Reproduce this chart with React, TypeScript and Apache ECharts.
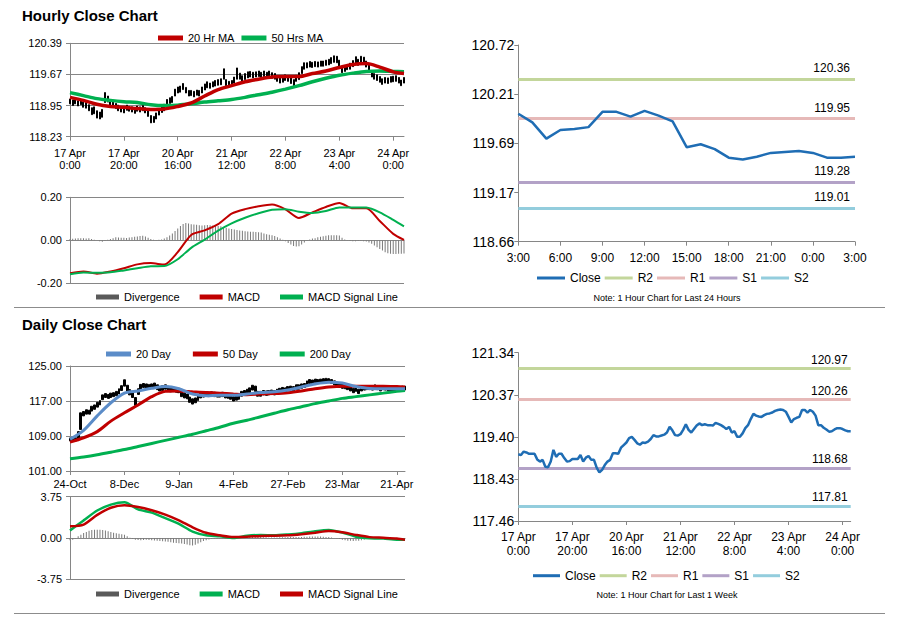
import React, { useEffect, useRef } from "react";
import * as echarts from "echarts";

// ---------------- DATA ----------------
// Hourly (last week) – top-left
const hourlyTicks = ["17 Apr\n0:00", "17 Apr\n20:00", "20 Apr\n16:00", "21 Apr\n12:00", "22 Apr\n8:00", "23 Apr\n4:00", "24 Apr\n0:00"];
const hourlyYTicks = [118.23, 118.95, 119.67, 120.39];
const hourlyHigh = [
  119.10, 119.08, 119.11, 119.06, 119.08, 119.03, 119.02, 118.97, 118.90, 118.92,
  118.83, 118.80, 118.86, 119.25, 119.17, 119.07, 119.05, 119.00, 118.96, 118.92,
  118.90, 118.96, 118.93, 118.92, 118.90, 118.94, 118.92, 118.95, 118.90, 118.84,
  118.72, 118.70, 118.78, 118.88, 118.93, 118.98, 119.09, 119.13, 119.16, 119.33,
  119.38, 119.40, 119.46, 119.37, 119.30, 119.30, 119.28, 119.31, 119.30, 119.38,
  119.45, 119.50, 119.47, 119.50, 119.53, 119.55, 119.57, 119.80, 119.55, 119.51,
  119.53, 119.61, 119.82, 119.70, 119.64, 119.69, 119.73, 119.74, 119.72, 119.73,
  119.75, 119.72, 119.75, 119.72, 119.75, 119.71, 119.69, 119.64, 119.60, 119.62,
  119.66, 119.64, 119.59, 119.55, 119.65, 119.71, 119.85, 119.94, 119.94, 119.97,
  119.95, 119.97, 119.96, 119.98, 119.98, 120.00, 120.02, 120.06, 120.10, 120.09,
  120.00, 119.85, 119.88, 119.90, 119.93, 119.99, 120.08, 120.02, 120.09, 120.07,
  119.98, 119.90, 119.75, 119.69, 119.66, 119.62, 119.57, 119.60, 119.59, 119.62,
  119.63, 119.64, 119.60, 119.54, 119.60,
];
const hourlyLow = [
  118.99, 118.95, 118.99, 118.94, 118.97, 118.91, 118.89, 118.83, 118.74, 118.76,
  118.66, 118.64, 118.68, 119.02, 119.03, 118.94, 118.94, 118.88, 118.83, 118.80,
  118.78, 118.84, 118.82, 118.80, 118.77, 118.82, 118.80, 118.83, 118.78, 118.70,
  118.55, 118.56, 118.64, 118.73, 118.79, 118.83, 118.94, 119.00, 119.02, 119.17,
  119.24, 119.26, 119.32, 119.24, 119.17, 119.18, 119.15, 119.19, 119.17, 119.24,
  119.31, 119.36, 119.35, 119.38, 119.40, 119.42, 119.43, 119.56, 119.41, 119.38,
  119.40, 119.47, 119.56, 119.56, 119.51, 119.55, 119.59, 119.61, 119.59, 119.61,
  119.62, 119.59, 119.62, 119.59, 119.62, 119.58, 119.56, 119.51, 119.47, 119.49,
  119.53, 119.51, 119.46, 119.41, 119.51, 119.55, 119.69, 119.79, 119.82, 119.84,
  119.83, 119.85, 119.84, 119.86, 119.86, 119.88, 119.89, 119.92, 119.95, 119.94,
  119.84, 119.71, 119.74, 119.78, 119.79, 119.85, 119.91, 119.88, 119.94, 119.93,
  119.84, 119.76, 119.61, 119.56, 119.53, 119.49, 119.44, 119.47, 119.46, 119.49,
  119.50, 119.51, 119.47, 119.41, 119.47,
];
// moving averages / MACD sampled every 5 bars (last sample = last bar)
const hourlyMA20 = [119.14, 119.07, 118.98, 118.93, 118.91, 118.88, 118.86, 118.87, 118.93, 119.01, 119.17, 119.32, 119.41, 119.50, 119.56, 119.61, 119.62, 119.62, 119.69, 119.75, 119.83, 119.90, 119.92, 119.84, 119.73, 119.69];
const hourlyMA50 = [119.25, 119.18, 119.11, 119.07, 119.04, 119.02, 118.97, 118.95, 118.96, 118.99, 119.03, 119.06, 119.09, 119.14, 119.20, 119.26, 119.33, 119.41, 119.50, 119.58, 119.65, 119.70, 119.74, 119.75, 119.74, 119.73];
const hourlyMacd = [-0.153, -0.145, -0.155, -0.145, -0.130, -0.112, -0.106, -0.113, -0.055, 0.025, 0.046, 0.075, 0.124, 0.145, 0.158, 0.166, 0.144, 0.104, 0.130, 0.155, 0.174, 0.149, 0.149, 0.090, 0.030, 0.002];
const hourlySignal = [-0.158, -0.150, -0.151, -0.149, -0.140, -0.130, -0.121, -0.120, -0.088, -0.035, 0.003, 0.045, 0.079, 0.105, 0.126, 0.142, 0.145, 0.133, 0.127, 0.136, 0.153, 0.153, 0.152, 0.130, 0.095, 0.065];
const hourlyDiv = [
  0.006, 0.007, 0.008, 0.009, 0.010, 0.009, 0.008, 0.010, 0.006, 0.003,
  0.000, -0.004, -0.007, -0.003, 0.002, 0.006, 0.010, 0.014, 0.013, 0.012,
  0.012, 0.011, 0.013, 0.014, 0.016, 0.018, 0.020, 0.021, 0.018, 0.012,
  0.006, 0.002, 0.001, 0.002, 0.004, 0.008, 0.014, 0.022, 0.032, 0.043,
  0.055, 0.066, 0.076, 0.080, 0.078, 0.075, 0.074, 0.072, 0.070, 0.069,
  0.070, 0.071, 0.070, 0.069, 0.068, 0.067, 0.065, 0.062, 0.058, 0.055,
  0.052, 0.050, 0.048, 0.046, 0.044, 0.042, 0.041, 0.040, 0.040, 0.039,
  0.038, 0.036, 0.032, 0.028, 0.026, 0.024, 0.020, 0.014, 0.008, 0.002,
  -0.004, -0.012, -0.020, -0.026, -0.029, -0.028, -0.020, -0.010, -0.002, 0.004,
  0.008, 0.010, 0.014, 0.017, 0.019, 0.021, 0.023, 0.024, 0.024, 0.023,
  0.022, 0.012, 0.004, -0.001, -0.003, -0.004, -0.004, -0.003, -0.003, -0.004,
  -0.005, -0.010, -0.016, -0.024, -0.032, -0.040, -0.048, -0.055, -0.060, -0.063,
  -0.064, -0.064, -0.063, -0.062, -0.061,
];

// Last 24 hours – top-right
const dayTicks = ["3:00", "6:00", "9:00", "12:00", "15:00", "18:00", "21:00", "0:00", "3:00"];
const dayYTicks = [118.66, 119.17, 119.69, 120.21, 120.72];
const dayClose = [120.00, 119.91, 119.74, 119.83, 119.84, 119.86, 120.02, 120.02, 119.97, 120.03, 119.98, 119.92, 119.65, 119.68, 119.63, 119.54, 119.52, 119.55, 119.59, 119.60, 119.61, 119.59, 119.54, 119.54, 119.55];
const dayLevels = [120.36, 119.95, 119.28, 119.01];

// Last week – bottom-right
const weekTicks = hourlyTicks;
const weekYTicks = [117.46, 118.43, 119.40, 120.37, 121.34];
const weekClose = [
  119.00, 118.98, 119.06, 119.04, 119.01, 119.01, 119.01, 118.88, 118.83, 118.87,
  118.71, 118.70, 118.83, 119.10, 118.94, 119.01, 119.01, 118.91, 118.83, 118.84,
  118.89, 118.89, 118.89, 118.98, 118.83, 118.92, 118.96, 118.87, 118.87, 118.69,
  118.58, 118.64, 118.75, 118.83, 118.87, 119.02, 119.02, 119.01, 119.15, 119.21,
  119.27, 119.37, 119.40, 119.33, 119.25, 119.22, 119.27, 119.26, 119.29, 119.35,
  119.44, 119.41, 119.41, 119.43, 119.45, 119.50, 119.63, 119.55, 119.44, 119.43,
  119.46, 119.56, 119.69, 119.56, 119.50, 119.58, 119.66, 119.71, 119.67, 119.69,
  119.67, 119.67, 119.66, 119.72, 119.70, 119.67, 119.63, 119.58, 119.63, 119.50,
  119.53, 119.40, 119.40, 119.48, 119.60, 119.67, 119.81, 119.93, 119.89, 119.87,
  119.86, 119.90, 119.93, 119.94, 119.96, 120.00, 120.02, 120.03, 120.02, 119.98,
  119.86, 119.73, 119.81, 119.84, 119.86, 120.02, 120.02, 119.96, 120.02, 119.98,
  119.89, 119.67, 119.67, 119.61, 119.57, 119.52, 119.53, 119.57, 119.60, 119.60,
  119.58, 119.55, 119.53, 119.53,
];
const weekLevels = [120.97, 120.26, 118.68, 117.81];
const levelNames = ["R2", "R1", "S1", "S2"];

// Daily – bottom-left
const dailyTicks = ["24-Oct", "8-Dec", "9-Jan", "4-Feb", "27-Feb", "23-Mar", "21-Apr"];
const dailyYTicks = [101, 109, 117, 125];
const dailyHigh = [
  108.55, 108.50, 108.60, 110.00, 114.30, 114.60, 115.00, 114.90, 115.80, 116.10,
  116.70, 117.10, 118.40, 118.70, 118.50, 118.80, 118.90, 119.20, 119.80, 120.50,
  121.85, 120.60, 119.60, 118.90, 117.80, 119.80, 120.80, 121.00, 120.90, 120.80,
  120.90, 121.10, 120.70, 120.30, 120.50, 120.70, 120.40, 120.20, 120.10, 120.00,
  119.90, 119.30, 118.80, 118.60, 117.90, 117.50, 117.70, 118.20, 118.80, 118.90,
  119.10, 119.00, 119.10, 119.00, 118.90, 118.90, 119.00, 118.80, 118.60, 118.40,
  118.00, 118.20, 118.50, 119.20, 119.40, 119.70, 120.00, 120.60, 120.40, 119.20,
  119.20, 119.40, 119.30, 119.40, 119.50, 119.40, 119.70, 119.90, 120.10, 120.00,
  120.30, 120.40, 120.30, 120.70, 120.70, 120.90, 121.00, 121.60, 121.90, 121.80,
  122.00, 121.90, 122.00, 122.10, 122.20, 122.10, 121.90, 121.60, 121.30, 121.00,
  120.90, 120.70, 120.60, 120.30, 119.90, 120.10, 119.70, 120.30, 120.40, 120.50,
  120.50, 120.40, 120.70, 120.50, 120.30, 120.50, 120.40, 120.30, 120.20, 120.20,
  120.40, 120.20, 120.40, 120.40,
];
const dailyLow = [
  107.90, 107.95, 107.90, 108.30, 110.50, 113.60, 114.00, 114.00, 114.70, 115.10,
  115.60, 116.10, 117.30, 117.80, 117.60, 117.80, 118.00, 118.20, 118.60, 119.40,
  120.40, 119.00, 118.40, 117.80, 116.00, 118.50, 119.70, 120.10, 119.90, 119.70,
  119.90, 120.00, 119.60, 119.30, 119.40, 119.70, 119.50, 119.10, 119.20, 119.00,
  118.90, 118.00, 117.70, 117.50, 116.70, 116.30, 116.60, 117.10, 117.70, 117.90,
  118.10, 118.00, 118.10, 118.00, 117.90, 117.90, 118.00, 117.70, 117.60, 117.40,
  117.00, 117.20, 117.40, 118.10, 118.40, 118.70, 118.90, 119.50, 119.20, 118.10,
  118.10, 118.40, 118.30, 118.40, 118.60, 118.40, 118.70, 118.90, 119.20, 119.00,
  119.30, 119.50, 119.30, 119.70, 119.70, 119.90, 120.10, 120.70, 121.00, 120.90,
  121.20, 121.00, 121.20, 121.20, 121.30, 121.20, 121.00, 120.70, 120.40, 120.10,
  119.90, 119.80, 119.60, 119.30, 118.90, 119.20, 118.70, 119.30, 119.50, 119.60,
  119.60, 119.50, 119.80, 119.60, 119.30, 119.60, 119.50, 119.30, 119.30, 119.30,
  119.50, 119.30, 119.50, 119.50,
];
const dailyMA20 = [108.24, 110.3, 113.6, 116.6, 118.8, 119.3, 119.9, 120.3, 119.8, 118.6, 118.2, 118.3, 118.3, 118.6, 118.95, 119.1, 119.5, 120.2, 120.9, 121.3, 121.1, 120.3, 119.85, 119.8, 119.8, 119.8];
const dailyMA50 = [107.6, 108.6, 110.0, 112.4, 114.3, 116.1, 118.0, 119.2, 119.3, 119.1, 118.95, 118.8, 118.6, 118.45, 118.6, 118.7, 118.9, 119.3, 119.8, 120.2, 120.4, 120.4, 120.4, 120.4, 120.3, 120.2];
const dailyMA200 = [103.8, 104.2, 104.7, 105.3, 105.9, 106.6, 107.3, 108.0, 108.7, 109.4, 110.2, 111.0, 111.9, 112.6, 113.4, 114.2, 115.0, 115.7, 116.4, 117.0, 117.6, 118.0, 118.4, 118.8, 119.2, 119.4];
const dailyMacd = [0.67, 1.60, 2.50, 3.03, 3.25, 2.60, 2.30, 1.80, 1.28, 0.58, 0.24, 0.16, 0.00, 0.20, 0.27, 0.24, 0.32, 0.44, 0.62, 0.73, 0.50, 0.12, -0.02, -0.05, -0.15, -0.15];
const dailySignal = [1.06, 1.22, 2.10, 2.75, 2.98, 2.82, 2.52, 2.12, 1.60, 0.97, 0.47, 0.25, 0.08, 0.11, 0.19, 0.21, 0.25, 0.35, 0.48, 0.64, 0.52, 0.28, 0.08, 0.02, -0.05, -0.15];
const dailyDiv = [
  -0.20, -0.15, -0.05, 0.15, 0.30, 0.45, 0.55, 0.65, 0.72, 0.75,
  0.76, 0.75, 0.73, 0.68, 0.62, 0.55, 0.48, 0.42, 0.38, 0.33,
  0.30, 0.15, 0.02, -0.10, -0.15, -0.18, -0.20, -0.18, -0.17, -0.18,
  -0.20, -0.22, -0.25, -0.28, -0.30, -0.32, -0.35, -0.38, -0.42, -0.45,
  -0.47, -0.50, -0.55, -0.60, -0.65, -0.68, -0.62, -0.50, -0.38, -0.28,
  -0.20, -0.14, -0.10, -0.07, -0.05, -0.04, -0.03, -0.03, -0.04, -0.05,
  -0.06, -0.05, -0.03, 0.00, 0.03, 0.06, 0.08, 0.10, 0.10, 0.09,
  0.08, 0.07, 0.06, 0.05, 0.04, 0.04, 0.05, 0.06, 0.07, 0.07,
  0.08, 0.08, 0.09, 0.10, 0.10, 0.10, 0.11, 0.12, 0.13, 0.14,
  0.14, 0.14, 0.13, 0.12, 0.10, 0.08, 0.04, 0.00, -0.05, -0.10,
  -0.15, -0.20, -0.24, -0.26, -0.27, -0.26, -0.24, -0.20, -0.15, -0.10,
  -0.08, -0.06, -0.05, -0.04, -0.03, -0.03, -0.02, -0.02, -0.02, -0.01,
  -0.01, 0.00, 0.00, 0.00,
];

// ---------------- STYLE ----------------
const FONT = '"Liberation Sans", Arial, Helvetica, sans-serif';
const AXIS_COLOR = "#868686";
const RED = "#C00000";
const GREEN = "#00B050";
const BLUE20 = "#5B8CC8";
const CLOSE_BLUE = "#1F6DB4";
const DIV_GRAY = "#7A7A7A";
const DIV_LEGEND = "#5A5A5A";
const LEVEL_COLORS = ["#C3D69B", "#E6B9B8", "#B3A2C7", "#93CDDD"];

const sparse = (vals: number[], n: number, step = 5) => vals.map((v, k) => [Math.min(k * step, n - 1), v]);
const idxCats = (n: number) => Array.from({ length: n }, (_, i) => String(i));
const nearestLabel = (ticks: number[]) => (v: number) => {
  let best = ticks[0];
  for (const t of ticks) if (Math.abs(t - v) < Math.abs(best - v)) best = t;
  return best.toFixed(2);
};

function catAxis(n: number, every: number, labels: string[] | null, fontSize = 11, margin = 10, lineHeight = 12) {
  const pick = (i: number) => i % every === 0;
  return {
    type: "category",
    data: idxCats(n),
    boundaryGap: false,
    axisLine: { show: true, onZero: true, lineStyle: { color: AXIS_COLOR, width: 1 } },
    axisTick: { show: !!labels, length: 4, interval: pick, lineStyle: { color: AXIS_COLOR } },
    axisLabel: labels
      ? {
          show: true,
          interval: pick,
          formatter: (_v: string, i: number) => labels[i / every] ?? "",
          fontFamily: FONT,
          fontSize,
          color: "#000",
          margin,
          lineHeight,
        }
      : { show: false },
    splitLine: { show: false },
  };
}

function valAxis(min: number, max: number, interval: number, fmt: any, split: boolean, fontSize = 11, margin = 8) {
  return {
    type: "value",
    min,
    max,
    interval,
    axisLine: { show: true, lineStyle: { color: AXIS_COLOR } },
    axisTick: { show: true, length: 4, lineStyle: { color: AXIS_COLOR } },
    splitLine: { show: split, lineStyle: { color: AXIS_COLOR, width: 1 } },
    axisLabel: { formatter: fmt, fontFamily: FONT, fontSize, color: "#000", margin },
  };
}

function legend(left: number, top: number, itemWidth: number, itemHeight: number, itemGap: number, fontSize: number, data: any[]) {
  return {
    show: true,
    left,
    top,
    padding: 0,
    itemWidth,
    itemHeight,
    itemGap,
    icon: "rect",
    selectedMode: false,
    textStyle: { fontFamily: FONT, fontSize, color: "#000", lineHeight: 14 },
    data,
  };
}

const lineSeries = (name: string, data: any[], color: string, width: number, z: number, smooth: number | boolean = 0.3) => ({
  type: "line",
  name,
  data,
  color,
  smooth,
  symbol: "none",
  showSymbol: false,
  lineStyle: { color, width },
  z,
});

const barsSeries = (high: number[], low: number[], barWidth: number) => ({
  type: "candlestick",
  name: "Price",
  data: low.map((lo, i) => [lo, high[i], lo, high[i]]),
  barWidth,
  itemStyle: { color: "#000", color0: "#000", borderColor: "#000", borderColor0: "#000", borderWidth: 1 },
  z: 1,
});

const levelSeries = (levels: number[], dist: number) =>
  levels.map((lv, k) => ({
    type: "line",
    name: levelNames[k],
    data: [],
    color: LEVEL_COLORS[k],
    z: 2,
    markLine: {
      silent: true,
      symbol: ["none", "none"],
      data: [{ yAxis: lv }],
      lineStyle: { color: LEVEL_COLORS[k], width: 3, type: "solid" },
      label: { show: true, position: "insideEndTop", formatter: lv.toFixed(2), fontFamily: FONT, fontSize: 12, color: "#000", distance: dist },
    },
  }));

// ---------------- OPTIONS ----------------
const frameOption = {
  animation: false,
  graphic: [
    { type: "text", x: 22, y: 15, style: { text: "Hourly Close Chart", font: `bold 15px ${FONT}`, fill: "#000", verticalAlign: "middle" } },
    { type: "text", x: 22, y: 324, style: { text: "Daily Close Chart", font: `bold 15px ${FONT}`, fill: "#000", verticalAlign: "middle" } },
    { type: "line", shape: { x1: 14, y1: 307.5, x2: 885, y2: 307.5 }, style: { stroke: "#8C8C8C", lineWidth: 1 } },
    { type: "line", shape: { x1: 14, y1: 613.5, x2: 885, y2: 613.5 }, style: { stroke: "#8C8C8C", lineWidth: 1 } },
  ],
};

const nH = hourlyHigh.length;
const optHourly = {
  animation: false,
  grid: { left: 70, top: 43.3, width: 334, height: 93.4 },
  legend: legend(158, 31, 25, 5, 7, 11, ["20 Hr MA", "50 Hrs MA"]),
  xAxis: catAxis(nH, 20, hourlyTicks, 11, 10, 12),
  yAxis: valAxis(hourlyYTicks[0], hourlyYTicks[hourlyYTicks.length - 1], hourlyYTicks[1] - hourlyYTicks[0], nearestLabel(hourlyYTicks), true),
  series: [
    barsSeries(hourlyHigh, hourlyLow, 1.5),
    lineSeries("50 Hrs MA", sparse(hourlyMA50, nH), GREEN, 3.5, 3),
    lineSeries("20 Hr MA", sparse(hourlyMA20, nH), RED, 3.5, 4),
  ],
};

const optHourlyMacd = {
  animation: false,
  grid: { left: 70, top: 17.3, width: 334, height: 86 },
  legend: legend(96, 110, 23, 5, 20, 11, [{ name: "Divergence", itemStyle: { color: DIV_LEGEND } }, "MACD", "MACD Signal Line"]),
  xAxis: catAxis(nH, 20, null),
  yAxis: valAxis(-0.2, 0.2, 0.2, (v: number) => (Math.abs(v) < 1e-9 ? 0 : v).toFixed(2), true),
  series: [
    { type: "bar", name: "Divergence", data: hourlyDiv, barWidth: 1, color: DIV_GRAY, itemStyle: { color: DIV_GRAY }, z: 1 },
    lineSeries("MACD", sparse(hourlyMacd, nH), RED, 2, 3, 0.25),
    lineSeries("MACD Signal Line", sparse(hourlySignal, nH), GREEN, 2, 4, 0.25),
  ],
};

const optDay = {
  animation: false,
  grid: { left: 78.3, top: 45, width: 336.7, height: 196.7 },
  legend: legend(97, 271, 28, 3, 4, 12, ["Close", ...levelNames]),
  xAxis: catAxis(dayClose.length, 3, dayTicks, 12, 9, 14),
  yAxis: valAxis(dayYTicks[0], dayYTicks[dayYTicks.length - 1], (dayYTicks[dayYTicks.length - 1] - dayYTicks[0]) / 4, nearestLabel(dayYTicks), false, 14, 4),
  series: [
    ...levelSeries(dayLevels, 5),
    lineSeries("Close", dayClose, CLOSE_BLUE, 2.5, 5, false),
  ],
  graphic: [
    { type: "text", x: 227, y: 298, style: { text: "Note: 1 Hour Chart for Last 24 Hours", font: `9px ${FONT}`, fill: "#000", align: "center", verticalAlign: "middle" } },
  ],
};

const nD = dailyHigh.length;
const optDaily = {
  animation: false,
  grid: { left: 70, top: 56, width: 335, height: 105 },
  legend: legend(106, 37, 25, 5, 22, 11, ["20 Day", "50 Day", "200 Day"]),
  xAxis: catAxis(nD, 20, dailyTicks, 11, 6, 13),
  yAxis: valAxis(dailyYTicks[0], dailyYTicks[dailyYTicks.length - 1], dailyYTicks[1] - dailyYTicks[0], (v: number) => v.toFixed(2), true),
  series: [
    barsSeries(dailyHigh, dailyLow, 2.4),
    lineSeries("200 Day", sparse(dailyMA200, nD), GREEN, 3, 3),
    lineSeries("50 Day", sparse(dailyMA50, nD), RED, 3, 4),
    lineSeries("20 Day", sparse(dailyMA20, nD), BLUE20, 3, 5),
  ],
};

const optDailyMacd = {
  animation: false,
  grid: { left: 70, top: 6.7, width: 335, height: 82.6 },
  legend: legend(96, 97, 23, 5, 20, 11, [{ name: "Divergence", itemStyle: { color: DIV_LEGEND } }, "MACD", "MACD Signal Line"]),
  xAxis: catAxis(nD, 20, null),
  yAxis: valAxis(-3.75, 3.75, 3.75, (v: number) => (Math.abs(v) < 1e-9 ? 0 : v).toFixed(2), true),
  series: [
    { type: "bar", name: "Divergence", data: dailyDiv, barWidth: 1, color: DIV_GRAY, itemStyle: { color: DIV_GRAY }, z: 1 },
    lineSeries("MACD", sparse(dailyMacd, nD), GREEN, 2.5, 3, 0.25),
    lineSeries("MACD Signal Line", sparse(dailySignal, nD), RED, 2.5, 4, 0.25),
  ],
};

const optWeek = {
  animation: false,
  grid: { left: 78.3, top: 42.7, width: 332.4, height: 168.3 },
  legend: legend(93, 258.7, 27, 3, 4, 12, ["Close", ...levelNames]),
  xAxis: catAxis(weekClose.length, 20, weekTicks, 12, 9, 14),
  yAxis: valAxis(weekYTicks[0], weekYTicks[weekYTicks.length - 1], weekYTicks[1] - weekYTicks[0], nearestLabel(weekYTicks), false, 14, 4),
  series: [
    ...levelSeries(weekLevels, 3),
    lineSeries("Close", weekClose, CLOSE_BLUE, 2.5, 5, false),
  ],
  graphic: [
    { type: "text", x: 227, y: 285, style: { text: "Note: 1 Hour Chart for Last 1 Week", font: `9px ${FONT}`, fill: "#000", align: "center", verticalAlign: "middle" } },
  ],
};

// ---------------- COMPONENT ----------------
export default function App() {
  const frameRef = useRef<HTMLDivElement>(null);
  const aRef = useRef<HTMLDivElement>(null);
  const bRef = useRef<HTMLDivElement>(null);
  const cRef = useRef<HTMLDivElement>(null);
  const dRef = useRef<HTMLDivElement>(null);
  const eRef = useRef<HTMLDivElement>(null);
  const fRef = useRef<HTMLDivElement>(null);

  useEffect(() => {
    document.body.style.margin = "0";
    const specs: [any, any][] = [
      [frameRef, frameOption],
      [aRef, optHourly],
      [bRef, optHourlyMacd],
      [cRef, optDay],
      [dRef, optDaily],
      [eRef, optDailyMacd],
      [fRef, optWeek],
    ];
    const charts = specs.map(([r, opt]) => {
      const c = echarts.init(r.current, null, { renderer: "svg" });
      c.setOption(opt);
      return c;
    });
    return () => charts.forEach((c) => c.dispose());
  }, []);

  const box = (left: number, top: number, width: number, height: number) => ({
    position: "absolute" as const,
    left,
    top,
    width,
    height,
  });

  return (
    <div style={{ position: "relative", width: 897, height: 617, background: "#fff", overflow: "hidden" }}>
      <div ref={frameRef} style={box(0, 0, 897, 617)} />
      <div ref={aRef} style={box(0, 0, 440, 180)} />
      <div ref={bRef} style={box(0, 180, 440, 130)} />
      <div ref={cRef} style={box(440, 0, 457, 310)} />
      <div ref={dRef} style={box(0, 310, 440, 180)} />
      <div ref={eRef} style={box(0, 490, 440, 127)} />
      <div ref={fRef} style={box(440, 310, 457, 307)} />
    </div>
  );
}
